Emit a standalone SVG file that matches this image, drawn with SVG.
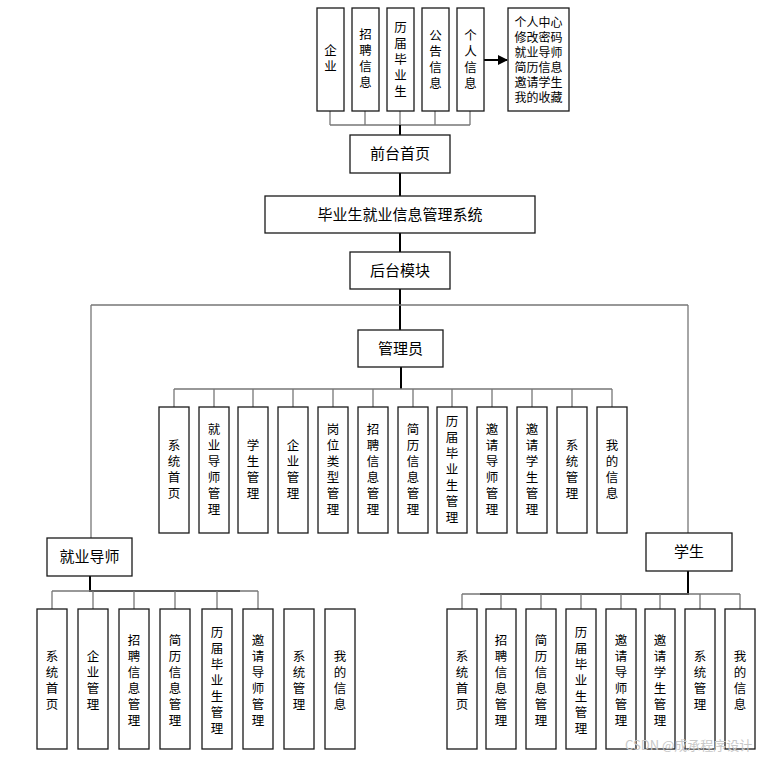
<svg xmlns="http://www.w3.org/2000/svg" width="775" height="757" viewBox="0 0 775 757">
<defs>
<style>
rect{fill:#fff;stroke:#1a1a1a;stroke-width:1.3}
text{font-family:"Noto Sans CJK SC","Liberation Sans",sans-serif;fill:#000}
.v{font-size:12.5px;text-anchor:middle}
.c{font-size:12px;text-anchor:middle}
.h{font-size:15px;text-anchor:middle}
.b{stroke:#000;stroke-width:2;fill:none}
.g{stroke:#777;stroke-width:1.3;fill:none}
</style>
<marker id="ar" markerWidth="10" markerHeight="10" refX="9" refY="5" orient="auto" markerUnits="userSpaceOnUse"><path d="M0,0L10,5L0,10z" fill="#000"/></marker>
</defs>
<g id="connectors">
<path class="g" d="M330,111V125M365,111V125M400,111V125M435,111V125M470,111V125M330,125H470"/>
<path class="b" d="M400,125V135M400,173V196M400,233V252M400,289V330"/>
<path class="g" d="M91,305H688M91,305V538M688,305V533"/>
<path class="b" d="M401,367V389"/>
<path class="g" d="M174,389H612M174,389V407M214,389V407M253,389V407M293,389V407M333,389V407M373,389V407M413,389V407M452,389V407M492,389V407M532,389V407M572,389V407M612,389V407"/>
<path class="b" d="M90,576V591H240"/>
<path class="g" d="M52,591H258M52,591V609M93,591V609M134,591V609M175,591V609M217,591V609M258,591V609"/>
<path class="b" d="M688,571V594H480"/>
<path class="g" d="M462,594H740M462,594V609M501,594V609M541,594V609M581,594V609M621,594V609M660,594V609M700,594V609M740,594V609"/>
<path class="b" d="M483,60H507" marker-end="url(#ar)"/>
</g>
<g id="top-nodes">
<g id="n-qiye"><rect x="317" y="8" width="27" height="103"/><text class="v" x="330.5" y="55">企</text><text class="v" x="330.5" y="71">业</text></g>
<g id="n-zhaopin"><rect x="352" y="8" width="27" height="103"/><text class="v" x="365.5" y="39">招</text><text class="v" x="365.5" y="55">聘</text><text class="v" x="365.5" y="71">信</text><text class="v" x="365.5" y="87">息</text></g>
<g id="n-lijie"><rect x="387" y="8" width="27" height="103"/><text class="v" x="400.5" y="32">历</text><text class="v" x="400.5" y="48">届</text><text class="v" x="400.5" y="64">毕</text><text class="v" x="400.5" y="80">业</text><text class="v" x="400.5" y="96">生</text></g>
<g id="n-gonggao"><rect x="422" y="8" width="27" height="103"/><text class="v" x="435.5" y="40">公</text><text class="v" x="435.5" y="56">告</text><text class="v" x="435.5" y="72">信</text><text class="v" x="435.5" y="88">息</text></g>
<g id="n-geren"><rect x="457" y="8" width="27" height="103"/><text class="v" x="470.5" y="40">个</text><text class="v" x="470.5" y="56">人</text><text class="v" x="470.5" y="72">信</text><text class="v" x="470.5" y="88">息</text></g>
<g id="n-center"><rect x="508" y="8" width="61" height="103"/>
<text class="c" x="538.5" y="27">个人中心</text><text class="c" x="538.5" y="42">修改密码</text><text class="c" x="538.5" y="57">就业导师</text><text class="c" x="538.5" y="72">简历信息</text><text class="c" x="538.5" y="87">邀请学生</text><text class="c" x="538.5" y="102">我的收藏</text></g>
</g>
<g id="n-qiantai"><rect x="350" y="135" width="100" height="38"/><text class="h" x="400" y="159">前台首页</text></g>
<g id="n-system"><rect x="265" y="196" width="270" height="37"/><text class="h" x="400" y="220">毕业生就业信息管理系统</text></g>
<g id="n-houtai"><rect x="350" y="252" width="100" height="37"/><text class="h" x="400" y="276">后台模块</text></g>
<g id="n-admin"><rect x="358" y="330" width="85" height="37"/><text class="h" x="400.5" y="354">管理员</text></g>
<g id="n-daoshi"><rect x="47" y="538" width="85" height="38"/><text class="h" x="89.5" y="562">就业导师</text></g>
<g id="n-xuesheng"><rect x="646" y="533" width="86" height="38"/><text class="h" x="689" y="557">学生</text></g>
<g id="admin-children">
<g><rect x="159" y="407" width="30" height="126"/><text class="v" x="174" y="450">系</text><text class="v" x="174" y="466">统</text><text class="v" x="174" y="482">首</text><text class="v" x="174" y="498">页</text></g>
<g><rect x="199" y="407" width="30" height="126"/><text class="v" x="214" y="434">就</text><text class="v" x="214" y="450">业</text><text class="v" x="214" y="466">导</text><text class="v" x="214" y="482">师</text><text class="v" x="214" y="498">管</text><text class="v" x="214" y="514">理</text></g>
<g><rect x="238" y="407" width="30" height="126"/><text class="v" x="253" y="450">学</text><text class="v" x="253" y="466">生</text><text class="v" x="253" y="482">管</text><text class="v" x="253" y="498">理</text></g>
<g><rect x="278" y="407" width="30" height="126"/><text class="v" x="293" y="450">企</text><text class="v" x="293" y="466">业</text><text class="v" x="293" y="482">管</text><text class="v" x="293" y="498">理</text></g>
<g><rect x="318" y="407" width="30" height="126"/><text class="v" x="333" y="434">岗</text><text class="v" x="333" y="450">位</text><text class="v" x="333" y="466">类</text><text class="v" x="333" y="482">型</text><text class="v" x="333" y="498">管</text><text class="v" x="333" y="514">理</text></g>
<g><rect x="358" y="407" width="30" height="126"/><text class="v" x="373" y="434">招</text><text class="v" x="373" y="450">聘</text><text class="v" x="373" y="466">信</text><text class="v" x="373" y="482">息</text><text class="v" x="373" y="498">管</text><text class="v" x="373" y="514">理</text></g>
<g><rect x="398" y="407" width="30" height="126"/><text class="v" x="413" y="434">简</text><text class="v" x="413" y="450">历</text><text class="v" x="413" y="466">信</text><text class="v" x="413" y="482">息</text><text class="v" x="413" y="498">管</text><text class="v" x="413" y="514">理</text></g>
<g><rect x="437" y="407" width="30" height="126"/><text class="v" x="452" y="426">历</text><text class="v" x="452" y="442">届</text><text class="v" x="452" y="458">毕</text><text class="v" x="452" y="474">业</text><text class="v" x="452" y="490">生</text><text class="v" x="452" y="506">管</text><text class="v" x="452" y="522">理</text></g>
<g><rect x="477" y="407" width="30" height="126"/><text class="v" x="492" y="434">邀</text><text class="v" x="492" y="450">请</text><text class="v" x="492" y="466">导</text><text class="v" x="492" y="482">师</text><text class="v" x="492" y="498">管</text><text class="v" x="492" y="514">理</text></g>
<g><rect x="517" y="407" width="30" height="126"/><text class="v" x="532" y="434">邀</text><text class="v" x="532" y="450">请</text><text class="v" x="532" y="466">学</text><text class="v" x="532" y="482">生</text><text class="v" x="532" y="498">管</text><text class="v" x="532" y="514">理</text></g>
<g><rect x="557" y="407" width="30" height="126"/><text class="v" x="572" y="450">系</text><text class="v" x="572" y="466">统</text><text class="v" x="572" y="482">管</text><text class="v" x="572" y="498">理</text></g>
<g><rect x="597" y="407" width="30" height="126"/><text class="v" x="612" y="450">我</text><text class="v" x="612" y="466">的</text><text class="v" x="612" y="482">信</text><text class="v" x="612" y="498">息</text></g>
</g>
<g id="daoshi-children">
<g><rect x="37" y="609" width="30" height="140"/><text class="v" x="52" y="661">系</text><text class="v" x="52" y="677">统</text><text class="v" x="52" y="693">首</text><text class="v" x="52" y="709">页</text></g>
<g><rect x="78" y="609" width="30" height="140"/><text class="v" x="93" y="661">企</text><text class="v" x="93" y="677">业</text><text class="v" x="93" y="693">管</text><text class="v" x="93" y="709">理</text></g>
<g><rect x="119" y="609" width="30" height="140"/><text class="v" x="134" y="645">招</text><text class="v" x="134" y="661">聘</text><text class="v" x="134" y="677">信</text><text class="v" x="134" y="693">息</text><text class="v" x="134" y="709">管</text><text class="v" x="134" y="725">理</text></g>
<g><rect x="160" y="609" width="30" height="140"/><text class="v" x="175" y="645">简</text><text class="v" x="175" y="661">历</text><text class="v" x="175" y="677">信</text><text class="v" x="175" y="693">息</text><text class="v" x="175" y="709">管</text><text class="v" x="175" y="725">理</text></g>
<g><rect x="202" y="609" width="30" height="140"/><text class="v" x="217" y="637">历</text><text class="v" x="217" y="653">届</text><text class="v" x="217" y="669">毕</text><text class="v" x="217" y="685">业</text><text class="v" x="217" y="701">生</text><text class="v" x="217" y="717">管</text><text class="v" x="217" y="733">理</text></g>
<g><rect x="243" y="609" width="30" height="140"/><text class="v" x="258" y="645">邀</text><text class="v" x="258" y="661">请</text><text class="v" x="258" y="677">导</text><text class="v" x="258" y="693">师</text><text class="v" x="258" y="709">管</text><text class="v" x="258" y="725">理</text></g>
<g><rect x="284" y="609" width="30" height="140"/><text class="v" x="299" y="661">系</text><text class="v" x="299" y="677">统</text><text class="v" x="299" y="693">管</text><text class="v" x="299" y="709">理</text></g>
<g><rect x="325" y="609" width="30" height="140"/><text class="v" x="340" y="661">我</text><text class="v" x="340" y="677">的</text><text class="v" x="340" y="693">信</text><text class="v" x="340" y="709">息</text></g>
</g>
<g id="xuesheng-children">
<g><rect x="447" y="609" width="30" height="140"/><text class="v" x="462" y="661">系</text><text class="v" x="462" y="677">统</text><text class="v" x="462" y="693">首</text><text class="v" x="462" y="709">页</text></g>
<g><rect x="486" y="609" width="30" height="140"/><text class="v" x="501" y="645">招</text><text class="v" x="501" y="661">聘</text><text class="v" x="501" y="677">信</text><text class="v" x="501" y="693">息</text><text class="v" x="501" y="709">管</text><text class="v" x="501" y="725">理</text></g>
<g><rect x="526" y="609" width="30" height="140"/><text class="v" x="541" y="645">简</text><text class="v" x="541" y="661">历</text><text class="v" x="541" y="677">信</text><text class="v" x="541" y="693">息</text><text class="v" x="541" y="709">管</text><text class="v" x="541" y="725">理</text></g>
<g><rect x="566" y="609" width="30" height="140"/><text class="v" x="581" y="637">历</text><text class="v" x="581" y="653">届</text><text class="v" x="581" y="669">毕</text><text class="v" x="581" y="685">业</text><text class="v" x="581" y="701">生</text><text class="v" x="581" y="717">管</text><text class="v" x="581" y="733">理</text></g>
<g><rect x="606" y="609" width="30" height="140"/><text class="v" x="621" y="645">邀</text><text class="v" x="621" y="661">请</text><text class="v" x="621" y="677">导</text><text class="v" x="621" y="693">师</text><text class="v" x="621" y="709">管</text><text class="v" x="621" y="725">理</text></g>
<g><rect x="645" y="609" width="30" height="140"/><text class="v" x="660" y="645">邀</text><text class="v" x="660" y="661">请</text><text class="v" x="660" y="677">学</text><text class="v" x="660" y="693">生</text><text class="v" x="660" y="709">管</text><text class="v" x="660" y="725">理</text></g>
<g><rect x="685" y="609" width="30" height="140"/><text class="v" x="700" y="661">系</text><text class="v" x="700" y="677">统</text><text class="v" x="700" y="693">管</text><text class="v" x="700" y="709">理</text></g>
<g><rect x="725" y="609" width="30" height="140"/><text class="v" x="740" y="661">我</text><text class="v" x="740" y="677">的</text><text class="v" x="740" y="693">信</text><text class="v" x="740" y="709">息</text></g>
</g>
<text x="625" y="750" style="font-size:13px;fill:#c8c8c8;font-family:'Noto Sans CJK SC',sans-serif">CSDN @成承程序设计</text>
</svg>
